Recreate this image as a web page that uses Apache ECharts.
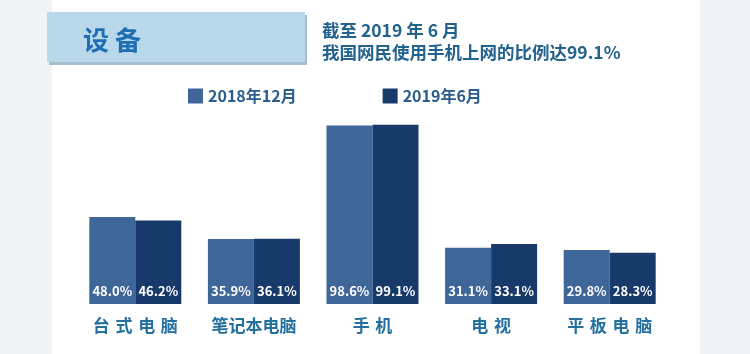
<!DOCTYPE html>
<html>
<head>
<meta charset="utf-8">
<script src="https://cdn.jsdelivr.net/npm/echarts@6/dist/echarts.min.js"></script>
<style>
  html, body { margin: 0; padding: 0; background: #fff; }
  #chart { width: 750px; height: 354px; }
</style>
</head>
<body>
<div id="chart"></div>
<script>
// 设备 - 网民上网设备使用比例
const categories = ['台式电脑', '笔记本电脑', '手机', '电视', '平板电脑']
const seriesNames = ['2018年12月', '2019年6月']
const dec2018 = [48.0, 35.9, 98.6, 31.1, 29.8]
const jun2019 = [46.2, 36.1, 99.1, 33.1, 28.3]

const FONT = '"Noto Sans CJK SC", "Noto Sans", sans-serif'
const LIGHT = '#3e6699'
const DARK = '#183a6b'

const chart = echarts.init(document.getElementById('chart'))

const barLabel = {
    show: true,
    position: 'insideBottom',
    distance: 6,
    formatter: (p) => p.value.toFixed(1) + '%',
    color: '#ffffff',
    fontSize: 13,
    fontWeight: 'bold',
    fontFamily: FONT
}

const option = {
    backgroundColor: '#ffffff',
    textStyle: {fontFamily: FONT},
    graphic: [
        // side strips
        {type: 'rect', left: 0, top: 0, shape: {width: 52, height: 354}, style: {fill: '#f2f3f6'}, z: -10},
        {type: 'rect', left: 700, top: 0, shape: {width: 50, height: 354}, style: {fill: '#f1f2f7'}, z: -10},
        // title banner
        {type: 'rect', left: 49, top: 15, shape: {width: 258, height: 50}, style: {fill: '#a6bfcd'}, z: 1},
        {type: 'rect', left: 47, top: 12, shape: {width: 258, height: 50}, style: {fill: '#b9d9eb'}, z: 2},
        {
            type: 'text', left: 83, top: 27, z: 3,
            style: {text: '设 备', fill: '#1f6db3', font: 'bold 26px ' + FONT}
        },
        {
            type: 'text', left: 322, top: 19, z: 3,
            style: {
                text: '截至 2019 年 6 月\n我国网民使用手机上网的比例达99.1%',
                fill: '#22628e', font: 'bold 17.5px ' + FONT, lineHeight: 22
            }
        }
    ],
    legend: {
        data: seriesNames,
        left: 183,
        top: 83,
        icon: 'rect',
        itemWidth: 15,
        itemHeight: 15,
        itemGap: 86,
        textStyle: {color: '#2b5d8c', fontSize: 16, fontWeight: 'bold', fontFamily: FONT}
    },
    grid: {
        left: 76,
        right: 81,
        top: 123,
        bottom: 50
    },
    xAxis: {
        type: 'category',
        data: categories,
        axisLine: {show: false},
        axisTick: {show: false},
        axisLabel: {
            interval: 0,
            margin: 13,
            color: '#236f9e',
            fontSize: 17,
            fontWeight: 'bold',
            fontFamily: FONT,
            formatter: (v) => v.length < 5 ? v.split('').join('\u2004') : v
        }
    },
    yAxis: {
        type: 'value',
        min: 0,
        max: 100,
        show: false,
        splitLine: {show: false}
    },
    series: [
        {
            name: seriesNames[0],
            type: 'bar',
            data: dec2018,
            barWidth: 46,
            barGap: '0%',
            itemStyle: {color: LIGHT},
            label: barLabel
        },
        {
            name: seriesNames[1],
            type: 'bar',
            data: jun2019,
            barWidth: 46,
            barGap: '0%',
            itemStyle: {color: DARK},
            label: barLabel
        }
    ]
}

chart.setOption(option)
</script>
</body>
</html>
